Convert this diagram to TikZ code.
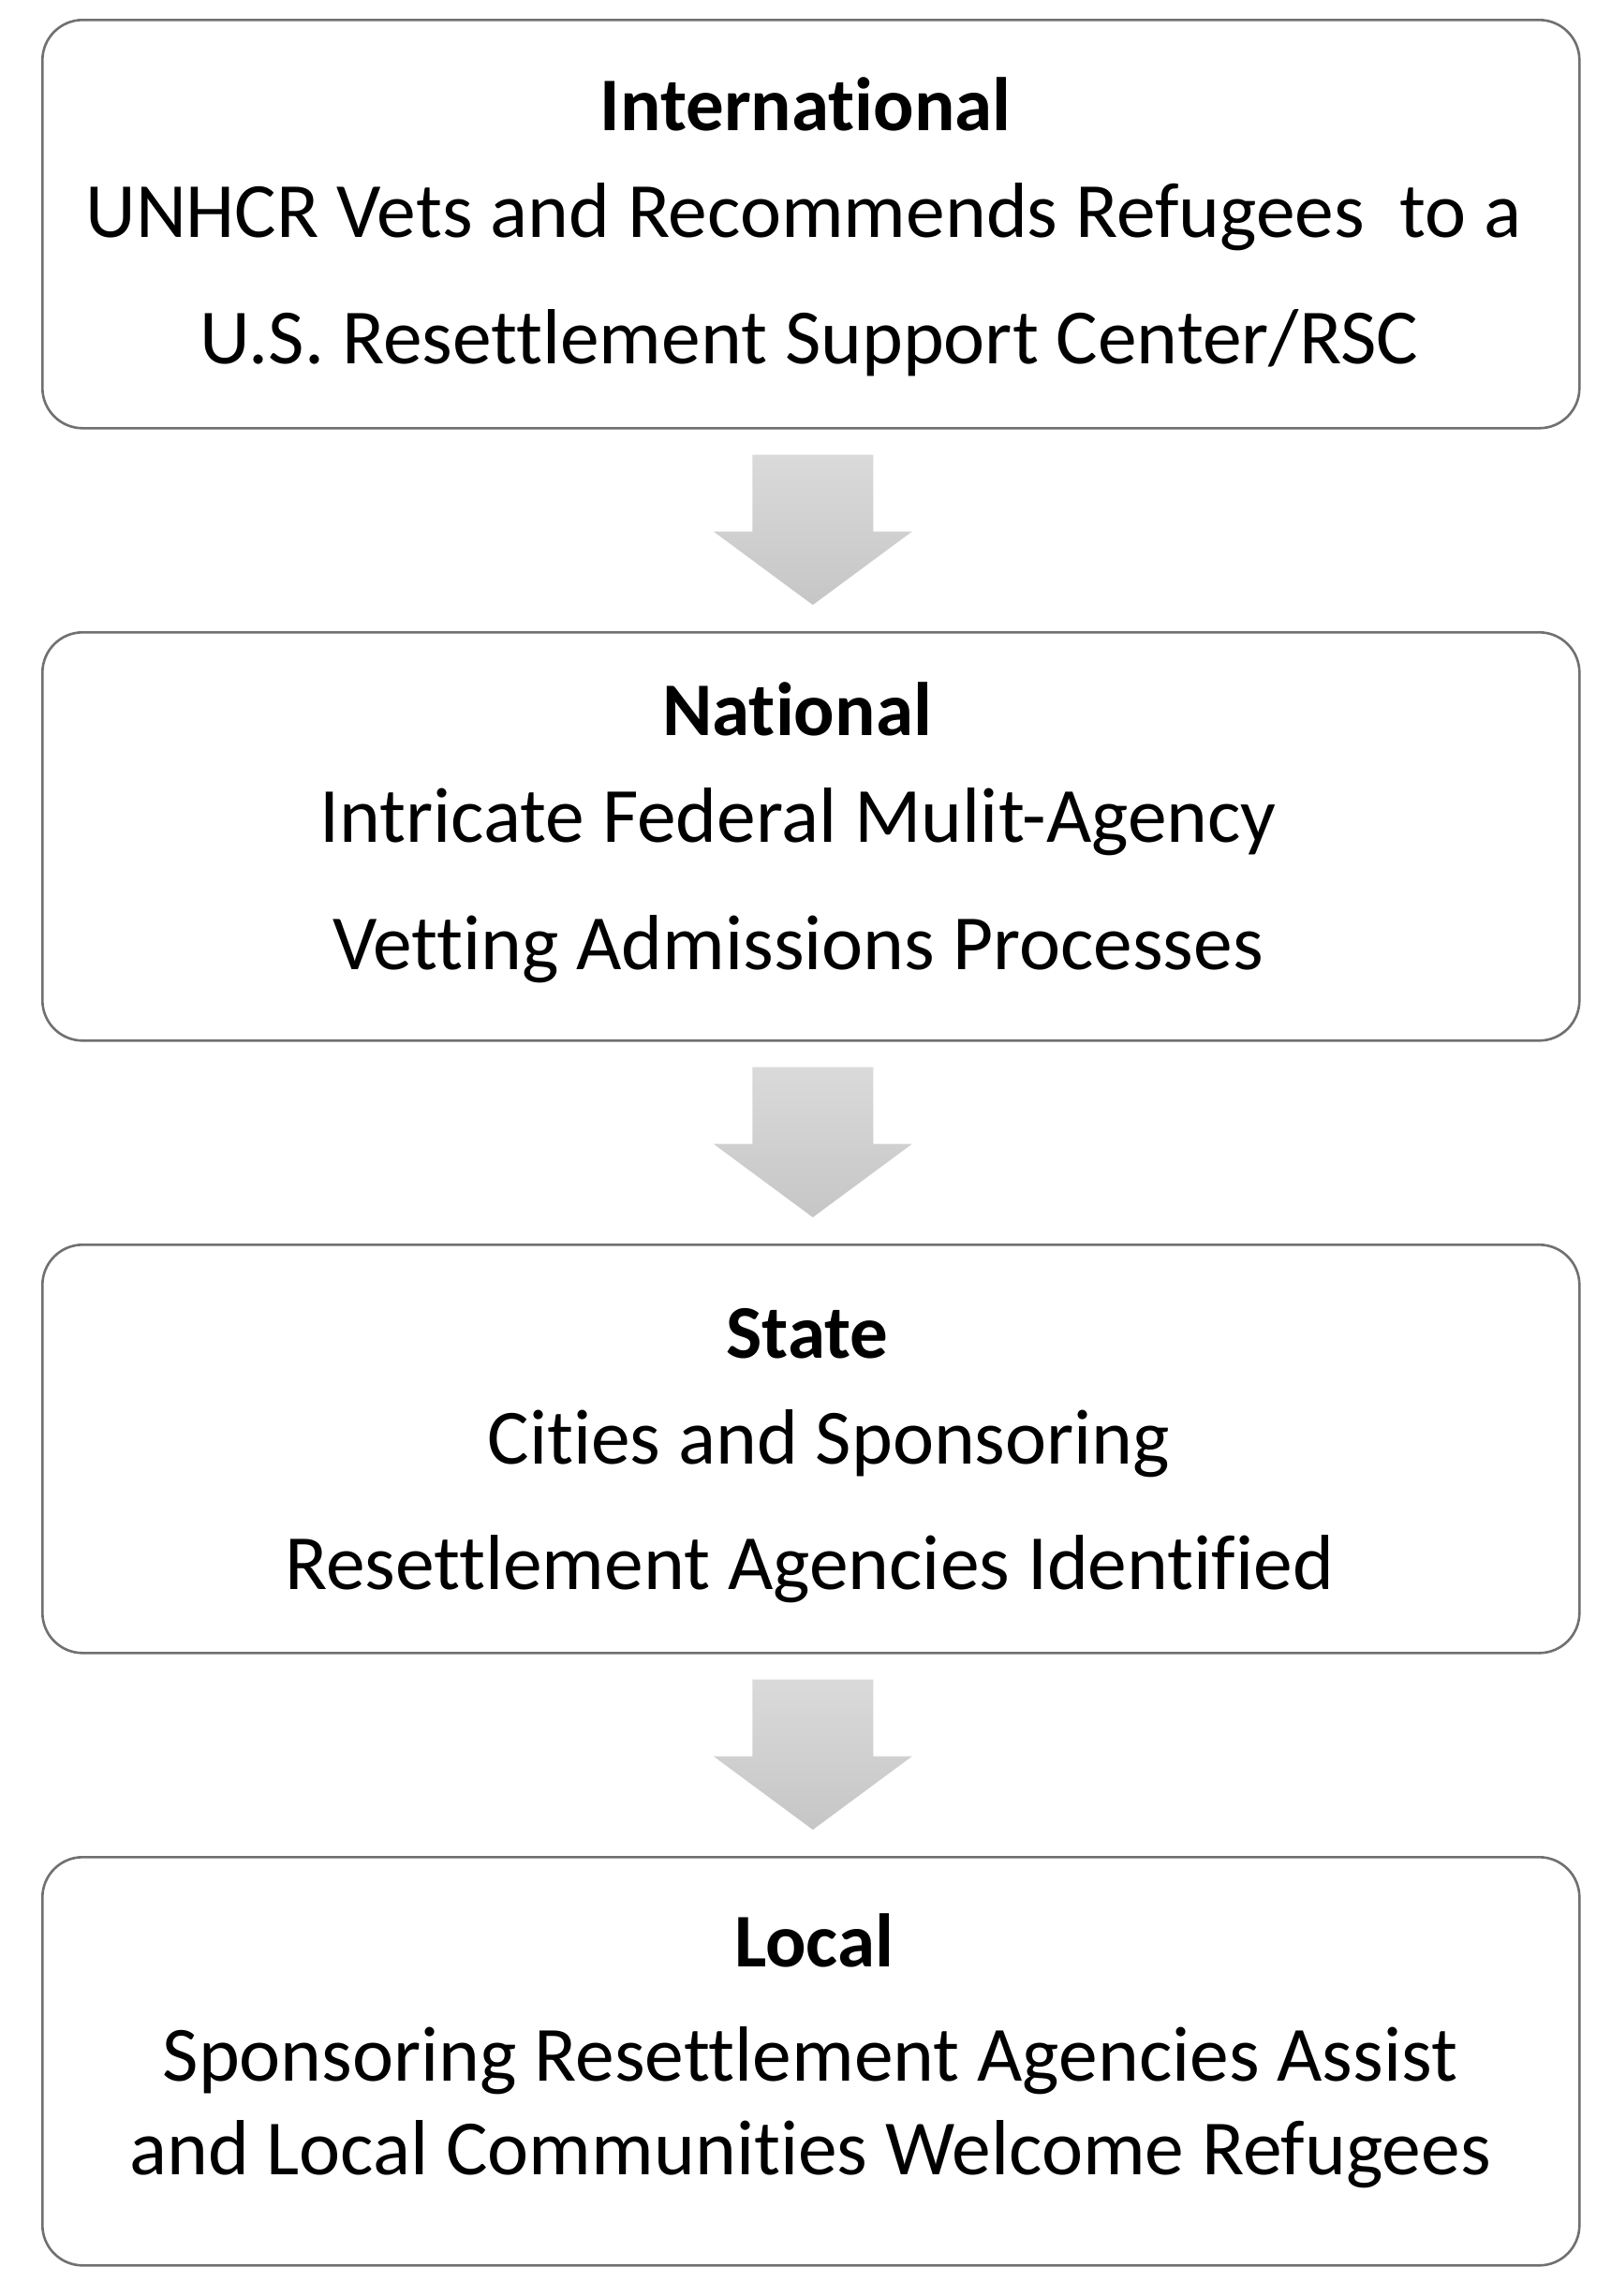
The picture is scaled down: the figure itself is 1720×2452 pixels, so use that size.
\documentclass[tikz,border=0pt]{standalone}
\usepackage{fontspec}
\setmainfont{Carlito}[Ligatures={NoCommon}]
\usetikzlibrary{calc}
\definecolor{boxline}{RGB}{112,112,112}
\definecolor{arrtop}{RGB}{218,218,218}
\definecolor{arrbot}{RGB}{198,198,198}
\tikzset{
  stage/.style={draw=boxline, line width=2.6pt, rounded corners=43pt, fill=white,
    minimum width=1641pt, minimum height=436pt, inner sep=0pt, anchor=north west},
  ttl/.style={anchor=base, inner sep=0pt, font=\fontsize{81}{96}\selectfont\bfseries},
  body/.style={anchor=base, inner sep=0pt, font=\fontsize{83.5}{100}\selectfont},
  flowarrow/.style={top color=arrtop, bottom color=arrbot, draw=none}
}
\newcommand{\flowarrow}[2]{%
  \coordinate (#1-s) at ($(#1.south)+(2pt,-27pt)$);
  \path[flowarrow] (#1-s) ++(-64.5pt,0) -- ++(0,-82pt) -- ++(-41.5pt,0)
     -- ($(#2.north)+(2pt,28pt)$) -- ($(#1-s)+(106pt,-82pt)$) -- ++(-41.5pt,0)
     -- ++(0,82pt) -- cycle;}
\begin{document}
\begin{tikzpicture}[x=1pt,y=-1pt]
\useasboundingbox (0,0) rectangle (1720,2452);
\fill[white] (0,0) rectangle (1720,2452);
\node[stage] (b1) at (44,20) {};
\node[stage] (b2) at (44,674) {};
\node[stage] (b3) at (44,1328) {};
\node[stage] (b4) at (44,1982) {};
\flowarrow{b1}{b2}
\flowarrow{b2}{b3}
\flowarrow{b3}{b4}
% box 1
\node[ttl] (t1) at (860,139) {International};
\node[body] (l1a) at (858,253) {UNHCR Vets and Recommends Refugees~ to a};
\node[body] (l1b) at (864,388) {U.S. Resettlement Support Center/RSC};
% box 2
\node[ttl] (t2) at (851,785) {National};
\node[body] (l2a) at (852,899) {Intricate Federal Mulit-Agency};
\node[body] (l2b) at (852,1035) {Vetting Admissions Processes};
% box 3
\node[ttl] (t3) at (862,1450) {State};
\node[body] (l3a) at (885,1563) {Cities and Sponsoring};
\node[body] (l3b) at (864,1697) {Resettlement Agencies Identified};
% box 4
\node[ttl] (t4) at (869,2100) {Local};
\node[body] (l4a) at (865,2222) {Sponsoring Resettlement Agencies Assist};
\node[body] (l4b) at (865,2322) {and Local Communities Welcome Refugees};
\end{tikzpicture}
\end{document}
